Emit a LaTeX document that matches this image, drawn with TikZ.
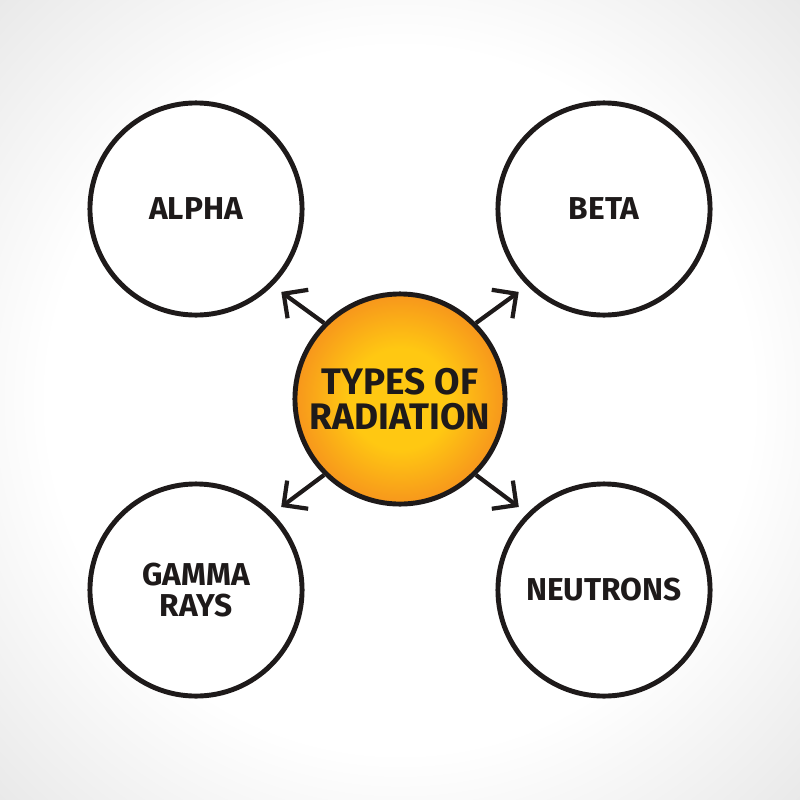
\documentclass[tikz,border=0pt]{standalone}
\usepackage{fontspec}
\setsansfont{Fira Sans}
\usetikzlibrary{arrows.meta,positioning}
\definecolor{hubinner}{RGB}{255,200,18}
\definecolor{hubouter}{RGB}{247,150,28}
\definecolor{inkline}{RGB}{30,26,26}
\definecolor{paperedge}{RGB}{232,232,232}
\pgfdeclareradialshading{hubshade}{\pgfpoint{0bp}{0bp}}{%
    color(0bp)=(hubinner); color(12bp)=(hubinner);
    color(25bp)=(hubouter); color(50bp)=(hubouter)}
\pgfdeclareradialshading{papershade}{\pgfpoint{0bp}{0bp}}{%
    color(0bp)=(white); color(22bp)=(white);
    color(36bp)=(paperedge); color(50bp)=(paperedge)}
\begin{document}
\begin{tikzpicture}[
    x=0.01cm, y=-0.01cm,
    every node/.style={font=\sffamily\bfseries, text=inkline},
    topic/.style={circle, draw=inkline, line width=1.4pt, fill=white,
        minimum size=2.12cm, inner sep=0pt, align=center,
        font=\sffamily\bfseries\fontsize{9}{8.6}\selectfont},
    hub/.style={circle, draw=inkline, line width=1.4pt, shading=hubshade,
        minimum size=2.1cm, inner sep=0pt, align=center,
        font=\sffamily\bfseries\fontsize{10.5}{10}\selectfont},
    spoke/.style={-{Straight Barb[length=5pt, width=10pt]},
        line width=1.2pt, draw=inkline, shorten >=3pt},
    ]

    % background
    \shade[shading=papershade] (0,0) rectangle (800,800);
    \useasboundingbox (0,0) rectangle (800,800);

    \node[hub] (types) at (400,399) {TYPES OF\\RADIATION};

    \node[topic] (alpha) at (196,209) {ALPHA};
    \node[topic] (beta) at (604,209) {BETA};
    \node[topic] (gamma) at (196,590) {GAMMA\\RAYS};
    \node[topic] (neutrons) at (604,590) {NEUTRONS};

    \draw[spoke] (types.135) -- (alpha.-45);
    \draw[spoke] (types.45) -- (beta.-135);
    \draw[spoke] (types.-135) -- (gamma.45);
    \draw[spoke] (types.-45) -- (neutrons.135);

\end{tikzpicture}
\end{document}
